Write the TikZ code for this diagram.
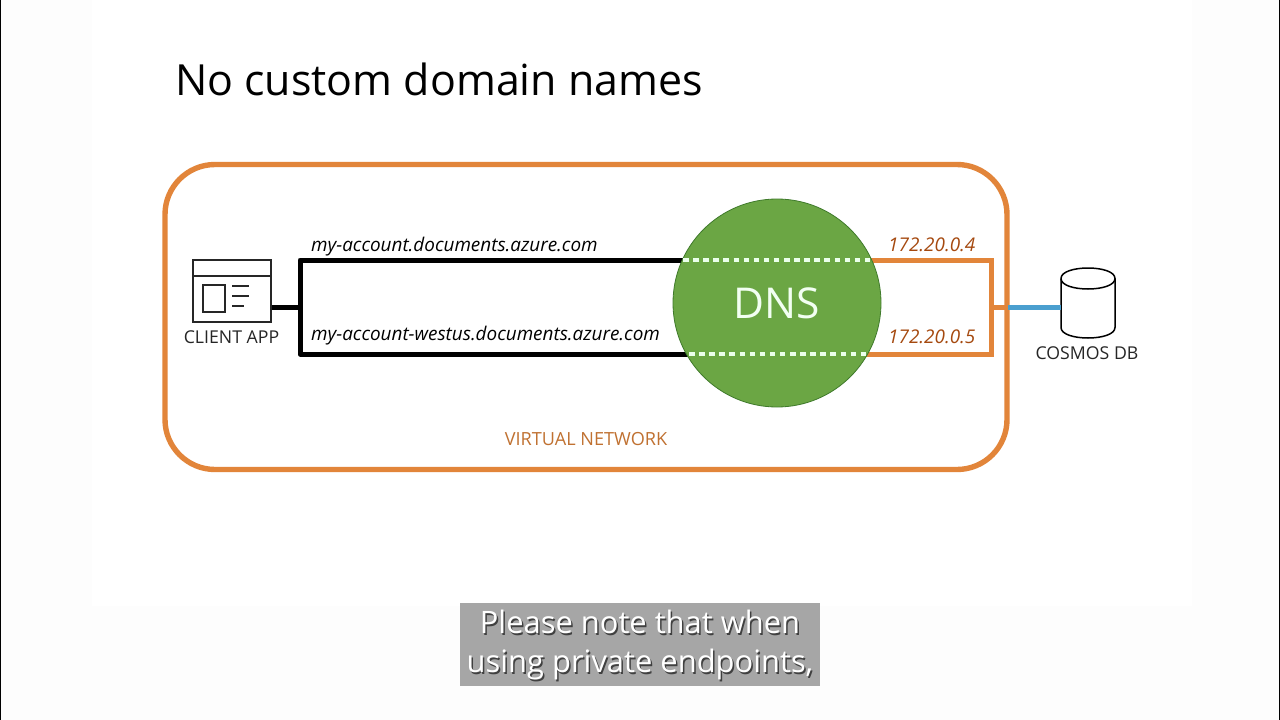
\documentclass[tikz,border=0pt]{standalone}
\usepackage{fontspec}
\setmainfont{Open Sans}
\usetikzlibrary{calc}
\definecolor{orangeline}{HTML}{E2853A}
\definecolor{dnsgreen}{HTML}{6BA644}
\definecolor{dnsedge}{HTML}{3F7A2B}
\definecolor{iplabel}{HTML}{A5490F}
\definecolor{linkblue}{HTML}{4A9FCF}
\definecolor{capgray}{HTML}{A6A6A6}
\definecolor{slidebg}{HTML}{FFFFFF}
\definecolor{outerbg}{HTML}{FDFDFD}
\tikzset{
  x=1pt,y=-1pt,
  lbl/.style={inner sep=0pt,font=\fontsize{17.7}{20}\selectfont,text=black!85},
  url/.style={inner sep=0pt,anchor=base west,font=\fontsize{18.9}{20}\selectfont\itshape,text=black},
  ip/.style={inner sep=0pt,anchor=base west,font=\fontsize{18.9}{20}\selectfont\itshape,text=iplabel},
  blackline/.style={draw=black,line width=5pt,line join=round},
  orangeconn/.style={draw=orangeline,line width=5pt,line join=miter},
  dotted white/.style={draw=white!92!green,line width=4.8pt,dash pattern=on 5.5pt off 4.6pt},
  thin icon/.style={draw=black!85,line width=1.5pt},
  caption text/.style={inner sep=0pt,align=center,font=\fontsize{30.9}{39}\selectfont},
}
\begin{document}
\begin{tikzpicture}
\useasboundingbox (0,0) rectangle (1280,720);
\fill[outerbg] (0,0) rectangle (1280,720);
\fill[slidebg] (92,0) rectangle (1192,606);
\fill[black] (0,0) rectangle (1.2,720);
\fill[black] (1278.8,0) rectangle (1280,720);

\node[inner sep=0pt,anchor=base west,font=\fontsize{42.9}{50}\selectfont,text=black] (title) at (175,95) {No custom domain names};

% virtual network
\node[draw=orangeline,line width=5.4pt,rounded corners=50pt,minimum width=842pt,minimum height=305pt,inner sep=0pt] (vnet) at (586,317) {};
\node[inner sep=0pt,font=\fontsize{18.1}{20}\selectfont,text=orangeline!85!black] (vnetlabel) at (586,439) {VIRTUAL NETWORK};

% coordinates
\coordinate (jl) at (300,307);
\coordinate (tl) at (300,260);
\coordinate (bl) at (300,354);
\coordinate (tr) at (991,260);
\coordinate (br) at (991,354);
\coordinate (jr) at (991,307);

% client app icon
\node[draw=black!85,line width=1.5pt,minimum width=78pt,minimum height=62pt,inner sep=0pt] (client) at (232,291) {};
\draw[thin icon] (193,276) -- (271,276);
\node[draw=black!85,line width=1.5pt,minimum width=22pt,minimum height=27pt,inner sep=0pt] (clientbox) at (214,298.5) {};
\coordinate (c1) at (232,286);
\coordinate (c2) at (232,296);
\coordinate (c3) at (232,306);
\draw[thin icon] (c1) -- ++(17,0);
\draw[thin icon] (c2) -- ++(17,0);
\draw[thin icon] (c3) -- ++(12,0);
\node[lbl] (clientlabel) at (231.5,337) {CLIENT APP};

% black lines
\draw[blackline] (client.east |- jl) -- (jl);
\draw[blackline] (690,260) -- (tl) -- (bl) -- (690,354);

% orange link lines
\draw[orangeconn] (860,260) -- (tr) -- (br) -- (860,354);
\draw[orangeconn] (jr) -- (1008,307);

% DNS
\node[circle,draw=dnsedge,line width=0.8pt,fill=dnsgreen,minimum size=208pt,inner sep=0pt,text=white!95!green,font=\fontsize{42.5}{50}\selectfont] (dns) at (777,303) {DNS};
\draw[dotted white] (683,260) -- (872,260);
\draw[dotted white] (689,354) -- (866,354);

% url labels
\node[url] (url1) at (311,251) {my-account.documents.azure.com};
\node[url] (url2) at (311,340) {my-account-westus.documents.azure.com};
\node[ip] (ip1) at (888,251) {172.20.0.4};
\node[ip] (ip2) at (888,343) {172.20.0.5};

% cosmos
\node[minimum width=54pt,minimum height=70pt,inner sep=0pt] (cosmos) at (1088,303) {};
\draw[black,line width=1.5pt,fill=white] (1061,278.5) .. controls (1061,264.5) and (1115,264.5) .. (1115,278.5) -- (1115,327.5) .. controls (1115,341.5) and (1061,341.5) .. (1061,327.5) -- cycle;
\draw[black,line width=1.5pt] (1061,278.5) .. controls (1061,292.5) and (1115,292.5) .. (1115,278.5);
\node[lbl] (cosmoslabel) at (1087,353) {COSMOS DB};
\draw[draw=linkblue,line width=5pt] (1008,307) -- (cosmos.west |- jr);

% caption
\node[fill=capgray,minimum width=360pt,minimum height=83pt,inner sep=0pt] (capbox) at (640,644) {};
\node[caption text,text=black!75] (capshadow) at (641.5,647) {Please note that when\\using private endpoints,};
\node[caption text,text=white] (caption) at (640,645) {Please note that when\\using private endpoints,};
\end{tikzpicture}
\end{document}
